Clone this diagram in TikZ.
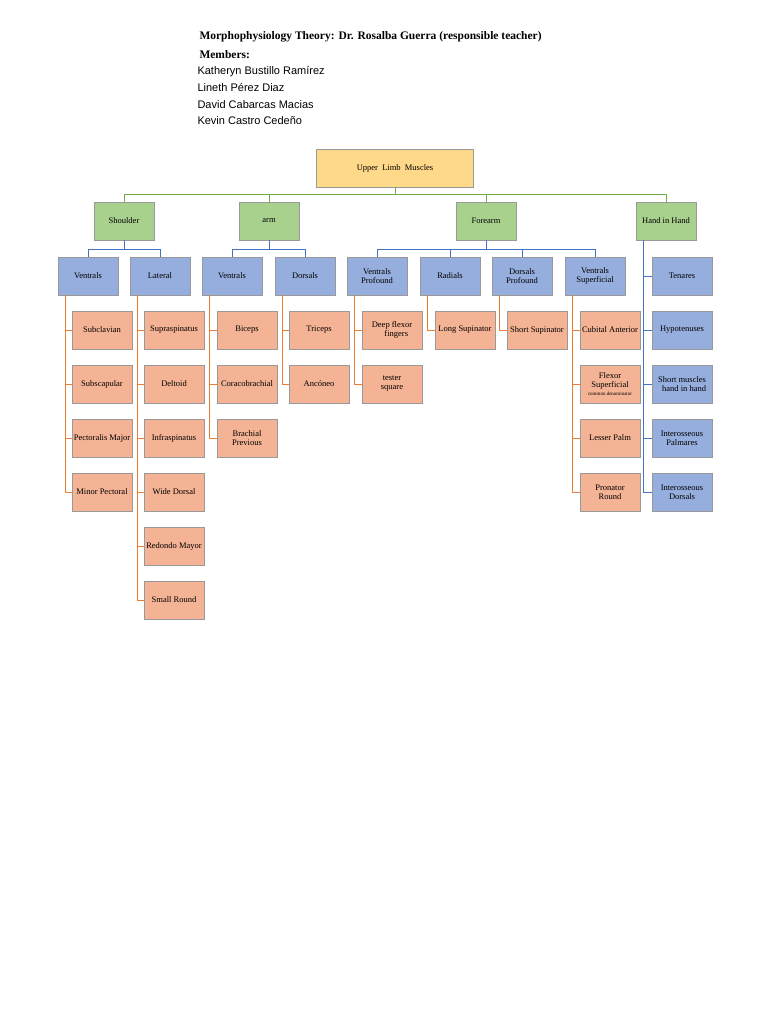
\documentclass[tikz,border=0pt]{standalone}
\usepackage{fontspec}
\setmainfont{Liberation Serif}
\newfontfamily\hdrsans{Liberation Sans}
\usetikzlibrary{positioning}
\definecolor{topfill}{HTML}{FFD98A}
\definecolor{grnfill}{HTML}{A9D18E}
\definecolor{bluefill}{HTML}{96AEDD}
\definecolor{orfill}{HTML}{F4B394}
\definecolor{grnline}{HTML}{70AD47}
\definecolor{blueline}{HTML}{4472C4}
\definecolor{orline}{HTML}{ED7D31}
\tikzstyle{box} = [draw=gray!80, line width=0.8pt, minimum width=60pt, minimum height=38pt, inner sep=1pt, align=center, font=\fontsize{8.5}{9}\selectfont]
\tikzstyle{topbox} = [box, fill=topfill, minimum width=157pt]
\tikzstyle{grnbox} = [box, fill=grnfill]
\tikzstyle{bluebox} = [box, fill=bluefill]
\tikzstyle{orbox} = [box, fill=orfill]
\tikzstyle{grnlink} = [grnline, line width=1pt]
\tikzstyle{bluelink} = [blueline, line width=1pt]
\tikzstyle{orlink} = [orline, line width=1pt]
\begin{document}
\begin{tikzpicture}[x=1pt, y=-1pt]
    \useasboundingbox (0,0) rectangle (768,1024);

    % header
    \node[anchor=west, font=\fontsize{11.5}{13}\selectfont\bfseries] (title) at (196,37) {Morphophysiology Theory: Dr. Rosalba Guerra (responsible teacher)};
    \node[anchor=west, font=\fontsize{11.5}{13}\selectfont\bfseries] (members) at (196,55) {Members:};
    \foreach \name [count=\i] in {Katheryn Bustillo Ramírez, Lineth Pérez Diaz, David Cabarcas Macias, Kevin Castro Cedeño}
        \node[anchor=west, font=\hdrsans\fontsize{11}{13}\selectfont] (member\i) at (194,55+16.5*\i) {\name};

    % root and groups
    \node (root) [topbox] at (395,168) {Upper\ \ Limb\ \ Muscles};
    \node (shoulder) [grnbox] at (124,221) {Shoulder};
    \node (arm) [grnbox] at (269,221) {arm};
    \node (forearm) [grnbox] at (486,221) {Forearm};
    \node (hand) [grnbox] at (666,221) {Hand in Hand};
    \foreach \g in {shoulder, arm, forearm, hand}
        \draw[grnlink] (root.south) -- ++(0,7) -| (\g.north);

    % second level
    \node (shven) [bluebox] at (88,276) {Ventrals};
    \node (shlat) [bluebox] at (160,276) {Lateral};
    \node (arven) [bluebox] at (232,276) {Ventrals};
    \node (ardor) [bluebox] at (305,276) {Dorsals};
    \node (fovp) [bluebox] at (377,276) {Ventrals\\Profound};
    \node (forad) [bluebox] at (450,276) {Radials};
    \node (fodp) [bluebox] at (522,276) {Dorsals\\Profound};
    \node (fovs) [bluebox] at (595,276) {Ventrals\\Superficial};
    \foreach \c in {shven, shlat}
        \draw[bluelink] (shoulder.south) -- ++(0,9) -| (\c.north);
    \foreach \c in {arven, ardor}
        \draw[bluelink] (arm.south) -- ++(0,9) -| (\c.north);
    \foreach \c in {fovp, forad, fodp, fovs}
        \draw[bluelink] (forearm.south) -- ++(0,9) -| (\c.north);

    % hand column
    \foreach \t [count=\i] in {Tenares, Hypotenuses, {Short muscles\\\ \ hand in hand}, {Interosseous\\Palmares}, {Interosseous\\Dorsals}} {
        \node (hand\i) [bluebox] at (682,222+54*\i) {\t};
        \draw[bluelink] ([xshift=-23pt]hand.south) |- (hand\i.west);
    }

    % muscles
    \foreach \p/\x/\list in {shven/102/{Subclavian, Subscapular, Pectoralis Major, Minor Pectoral},
                             shlat/174/{Supraspinatus, Deltoid, Infraspinatus, Wide Dorsal, Redondo Mayor, Small Round},
                             arven/247/{Biceps, Coracobrachial, {Brachial\\Previous}},
                             ardor/319/{Triceps, Ancóneo},
                             fovp/392/{{Deep flexor\\\ \ \ \ fingers}, {tester\\square}},
                             forad/465/{Long Supinator},
                             fodp/537/{Short Supinator},
                             fovs/610/{Cubital Anterior, {Flexor\\Superficial\\[-1pt]{\fontsize{5}{5}\selectfont common denominator}}, Lesser Palm, {Pronator\\Round}}}
        \foreach \t [count=\i] in \list {
            \node (\p m\i) [orbox] at (\x,276+54*\i) {\t};
            \draw[orlink] ([xshift=-23pt]\p.south) |- (\p m\i.west);
        }
\end{tikzpicture}
\end{document}
